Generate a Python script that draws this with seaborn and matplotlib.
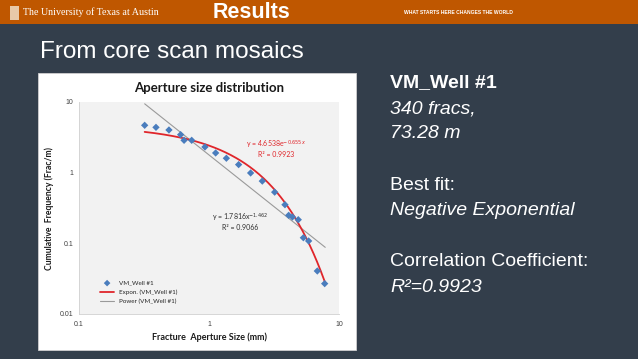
import numpy as np
import pandas as pd
import matplotlib
matplotlib.use("Agg")
import matplotlib.pyplot as plt
from matplotlib.patches import Rectangle
import seaborn as sns

# measured points (aperture mm, cumulative frequency frac/m)
aperture = [0.32, 0.391, 0.492, 0.605, 0.643, 0.736, 0.931, 1.125, 1.36, 1.69, 2.09,
            2.57, 3.20, 3.84, 4.10, 4.38, 4.86, 5.32, 5.84, 6.81, 7.76]
cum_freq = [4.68, 4.38, 4.02, 3.45, 2.87, 2.87, 2.31, 1.90, 1.60, 1.30, 0.99,
            0.76, 0.53, 0.352, 0.249, 0.236, 0.216, 0.120, 0.108, 0.0406, 0.0269]

# trendline coefficients as printed on the chart
exp_a, exp_b = 4.6538, -0.655
pow_a, pow_b = 1.7816, -1.462

side_lines = ["340 fracs,", "73.28 m", "", "Best fit:", "Negative Exponential",
              "", "Correlation Coefficient:", "R²=0.9923"]

W, H = 638, 359
BG = "#333e4b"
ORANGE = "#bf5700"

sns.set_theme(style="white")
plt.rcParams["font.family"] = ["Liberation Sans", "DejaVu Sans"]

fig = plt.figure(figsize=(W / 100, H / 100), dpi=100)
fig.patch.set_facecolor(BG)


def px(x, y):
    return x / W, 1 - y / H


# header band
fig.patches.append(Rectangle(px(0, 24), 1, 24 / H, transform=fig.transFigure,
                             facecolor=ORANGE, edgecolor="none", zorder=0))
fig.patches.append(Rectangle(px(10, 20), 9 / W, 14 / H, transform=fig.transFigure,
                             facecolor="#e8c9a8", edgecolor="none", zorder=1))
fig.text(*px(23, 12.5), "The University of Texas at Austin", color="white",
         fontsize=7.2, family="Liberation Serif", va="center", ha="left")
fig.text(*px(252, 12), "Results", color="white", fontsize=15.5,
         fontweight="bold", va="center", ha="center")
fig.text(*px(513, 13), "WHAT STARTS HERE CHANGES THE WORLD", color="white",
         fontsize=3.6, fontweight="bold", va="center", ha="right")

fig.text(*px(40, 58), "From core scan mosaics", color="white", fontsize=17.5,
         va="baseline", ha="left")

# right side text
fig.text(*px(390, 87), "VM_Well #1", color="white", fontsize=14,
         fontweight="bold", va="baseline", ha="left")
y0 = 113
for line in side_lines:
    style = "italic" if line in ("340 fracs,", "73.28 m", "Negative Exponential", "R²=0.9923") else "normal"
    if line:
        fig.text(*px(390, y0), line, color="white", fontsize=14, style=style,
                 va="baseline", ha="left")
    y0 += 25.5

# white chart box
fig.patches.append(Rectangle(px(38, 350), (356 - 38) / W, (350 - 73) / H,
                             transform=fig.transFigure, facecolor="white",
                             edgecolor="#cfcfcf", lw=0.6, zorder=0))

ax = fig.add_axes([79 / W, 1 - 314 / H, 260 / W, 212 / H])
ax.set_zorder(5)
ax.set_facecolor("#f2f2f2")

df = pd.DataFrame({"x": aperture, "y": cum_freq})
xs = np.geomspace(min(aperture), max(aperture) * 1.01, 200)
fit = pd.DataFrame({"x": xs,
                    "exp": exp_a * np.exp(exp_b * xs),
                    "pow": pow_a * xs ** pow_b})

sns.lineplot(data=fit, x="x", y="pow", ax=ax, color="#9a9a9a", lw=0.8,
             label="Power (VM_Well #1)", zorder=2)
sns.lineplot(data=fit, x="x", y="exp", ax=ax, color="#e0262b", lw=1.3,
             label="Expon. (VM_Well #1)", zorder=3)
sns.scatterplot(data=df, x="x", y="y", ax=ax, marker="D", s=14,
                color="#4a7dbd", edgecolor="none", label="VM_Well #1", zorder=4)

ax.set_xscale("log")
ax.set_yscale("log")
ax.set_xlim(0.1, 10)
ax.set_ylim(0.01, 10)
ax.set_xticks([0.1, 1, 10])
ax.set_xticklabels(["0.1", "1", "10"])
ax.set_yticks([0.01, 0.1, 1, 10])
ax.set_yticklabels(["0.01", "0.1", "1", "10"])
ax.minorticks_off()
ax.tick_params(axis="both", labelsize=5, colors="#404040", length=0)
ax.tick_params(axis="y", pad=4)
ax.tick_params(axis="x", pad=5)
for s in ["top", "right"]:
    ax.spines[s].set_visible(False)
for s in ["left", "bottom"]:
    ax.spines[s].set_color("#d0d0d0")
    ax.spines[s].set_linewidth(0.6)

lab_font = ["Lato", "DejaVu Sans"]
ax.set_xlabel("Fracture  Aperture Size (mm)", fontsize=6.5, fontweight="bold",
              family=lab_font, labelpad=3, color="#1a1a1a")
ax.set_ylabel("Cumulative  Frequency (Frac/m)", fontsize=6.2, fontweight="bold",
              family=lab_font, labelpad=4, color="#1a1a1a")
ax.set_title("Aperture size distribution", fontsize=9.5, fontweight="bold",
             family=lab_font, pad=7, color="#1a1a1a")

ax.text(3.3, 2.5, f"y = {exp_a}e$^{{{exp_b}x}}$", color="#e0262b", fontsize=5,
        ha="center", va="center", family=lab_font)
ax.text(3.3, 1.8, "R² = 0.9923", color="#e0262b", fontsize=5,
        ha="center", va="center", family=lab_font)
ax.text(1.74, 0.233, f"y = {pow_a}x$^{{{pow_b}}}$", color="#303030", fontsize=5,
        ha="center", va="center", family=lab_font)
ax.text(1.74, 0.168, "R² = 0.9066", color="#303030", fontsize=5,
        ha="center", va="center", family=lab_font)

handles, labels = ax.get_legend_handles_labels()
order = [labels.index("VM_Well #1"), labels.index("Expon. (VM_Well #1)"),
         labels.index("Power (VM_Well #1)")]
ax.legend([handles[i] for i in order], [labels[i] for i in order],
          loc="lower left", bbox_to_anchor=(0.06, 0.02), frameon=False,
          prop={"size": 4.5, "family": lab_font},
          handlelength=2.2, labelspacing=0.6, markerscale=0.9)

fig.savefig("out.png", dpi=100, facecolor=fig.get_facecolor())
